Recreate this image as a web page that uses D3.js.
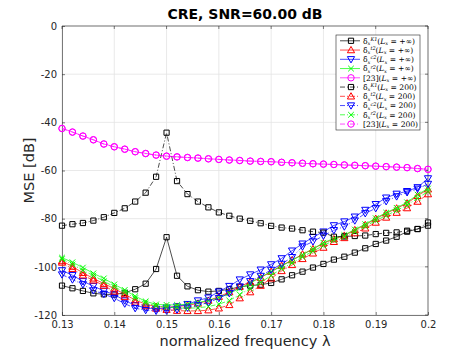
<!DOCTYPE html>
<html><head><meta charset="utf-8">
<script src="https://cdn.jsdelivr.net/npm/d3@7/dist/d3.min.js"></script>
<style>body{margin:0;background:#fff}</style></head>
<body>
<svg id="chart" width="474" height="355"></svg>
<script>
const freq = [0.130,0.132,0.134,0.136,0.138,0.140,0.142,0.144,0.146,0.148,0.150,0.152,0.154,0.156,0.158,0.160,0.162,0.164,0.166,0.168,0.170,0.172,0.174,0.176,0.178,0.180,0.182,0.184,0.186,0.188,0.190,0.192,0.194,0.196,0.198,0.200];
const xTicks = [0.13,0.14,0.15,0.16,0.17,0.18,0.19,0.2];
const xTickLabels = ["0.13","0.14","0.15","0.16","0.17","0.18","0.19","0.2"];
const yTicks = [0,-20,-40,-60,-80,-100,-120];

const k1Inf = [-107.8,-108.9,-110.0,-111.0,-111.4,-111.5,-110.8,-109.3,-107.0,-100.9,-87.7,-103.7,-108.1,-109.7,-110.3,-110.0,-109.3,-108.3,-107.8,-107.4,-106.7,-105.2,-103.5,-102.0,-100.3,-98.8,-97.0,-95.8,-94.1,-92.3,-90.5,-89.1,-87.5,-85.4,-84.3,-82.9];
const t2Inf = [-97.6,-99.9,-102.5,-104.8,-107.0,-109.0,-111.4,-113.8,-115.5,-116.5,-116.8,-116.5,-116.0,-115.2,-114.0,-112.4,-110.5,-108.2,-106.3,-104.5,-102.0,-99.5,-97.2,-94.8,-92.6,-90.2,-88.5,-87.0,-84.7,-82.6,-80.0,-77.8,-75.7,-73.6,-70.5,-67.8];
const c2Inf = [-101.5,-103.5,-106.0,-108.0,-110.0,-111.5,-114.0,-116.0,-117.0,-117.5,-117.0,-116.5,-115.5,-114.0,-112.8,-110.3,-108.0,-105.3,-103.2,-101.2,-99.0,-96.5,-93.3,-90.4,-87.7,-85.4,-82.8,-81.2,-79.2,-76.4,-74.0,-71.3,-69.7,-68.6,-67.0,-63.3];
const r2Inf = [-96.2,-98.1,-100.3,-102.7,-104.8,-107.3,-109.6,-112.2,-114.3,-115.6,-115.8,-115.8,-115.5,-114.8,-114.0,-112.8,-111.0,-109.0,-106.8,-104.3,-102.0,-99.7,-97.3,-95.0,-92.5,-90.0,-88.2,-86.8,-84.5,-82.3,-79.8,-77.5,-75.5,-73.2,-70.0,-67.5];
const ref23Inf = [-42.5,-44.0,-45.7,-47.2,-49.0,-50.1,-51.1,-52.2,-52.9,-53.6,-54.0,-54.3,-54.6,-54.8,-55.1,-55.4,-55.6,-55.8,-56.1,-56.2,-56.3,-56.6,-56.8,-57.0,-57.2,-57.3,-57.5,-57.7,-57.8,-58.0,-58.2,-58.4,-58.6,-58.8,-59.2,-59.5];
const k1L200 = [-82.9,-82.3,-81.8,-80.8,-79.4,-77.6,-75.7,-72.9,-69.2,-62.6,-44.3,-64.4,-69.8,-72.9,-75.3,-77.4,-78.8,-80.0,-80.9,-81.9,-83.0,-83.7,-84.1,-84.8,-85.4,-85.8,-87.5,-87.4,-87.2,-87.0,-86.4,-85.9,-85.7,-85.0,-84.3,-81.6];
const t2L200 = [-98.2,-100.8,-103.5,-105.6,-107.8,-110.2,-112.5,-114.8,-116.3,-117.3,-117.8,-118.2,-118.3,-118.3,-118.0,-117.2,-115.8,-113.0,-110.5,-107.8,-104.8,-101.7,-99.2,-96.7,-94.4,-92.0,-89.6,-88.0,-86.0,-84.0,-81.6,-79.5,-77.5,-75.6,-72.9,-69.8];
const c2L200 = [-103.2,-105.3,-107.3,-109.8,-111.3,-113.0,-115.3,-117.2,-118.0,-118.3,-118.2,-117.8,-117.0,-116.0,-114.8,-113.0,-111.0,-108.2,-106.0,-103.8,-101.3,-98.8,-96.0,-91.6,-89.5,-87.1,-84.8,-83.3,-80.8,-77.8,-75.7,-72.8,-70.8,-69.1,-67.6,-65.6];
const r2L200 = [-96.8,-99.0,-101.5,-103.6,-106.0,-108.3,-110.6,-113.0,-115.0,-116.2,-116.8,-117.0,-117.2,-117.0,-116.5,-115.5,-114.0,-111.5,-109.0,-106.5,-103.6,-100.8,-98.4,-95.9,-93.5,-91.2,-89.0,-87.5,-85.4,-83.2,-80.8,-78.7,-76.6,-74.4,-71.5,-68.7];
const ref23L200 = [-42.6,-44.1,-45.7,-47.3,-49.0,-50.2,-51.2,-52.2,-53.0,-53.6,-54.1,-54.4,-54.6,-54.9,-55.2,-55.4,-55.7,-55.9,-56.1,-56.3,-56.4,-56.6,-56.8,-57.0,-57.2,-57.4,-57.5,-57.7,-57.9,-58.0,-58.2,-58.4,-58.6,-58.8,-59.2,-59.5];

const series = [
  {sup:"K1", L:"+∞", data:k1Inf, color:"#000000", marker:"square", dash:null},
  {sup:"t2", L:"+∞", data:t2Inf, color:"#ff0000", marker:"triUp", dash:null},
  {sup:"c2", L:"+∞", data:c2Inf, color:"#0000ff", marker:"triDown", dash:null},
  {sup:"r2", L:"+∞", data:r2Inf, color:"#00ff00", marker:"x", dash:null},
  {ref:true, L:"+∞", data:ref23Inf, color:"#ff00ff", marker:"circle", dash:null},
  {sup:"K1", L:"200", data:k1L200, color:"#000000", marker:"square", dash:"5,2,1,2"},
  {sup:"t2", L:"200", data:t2L200, color:"#ff0000", marker:"triUp", dash:"5,2,1,2"},
  {sup:"c2", L:"200", data:c2L200, color:"#0000ff", marker:"triDown", dash:"5,2,1,2"},
  {sup:"r2", L:"200", data:r2L200, color:"#00ff00", marker:"x", dash:"5,2,1,2"},
  {ref:true, L:"200", data:ref23L200, color:"#ff00ff", marker:"circle", dash:"5,2,1,2"}
];

const svg = d3.select("#chart");
const W = 474, H = 355;
const m = {left:62, right:46, top:26, bottom:40};
const x = d3.scaleLinear().domain([0.13,0.2]).range([m.left, W-m.right]);
const y = d3.scaleLinear().domain([-120,0]).range([H-m.bottom, m.top]);
const axisColor = "#262626";
const font = "'DejaVu Sans', sans-serif";

svg.append("rect").attr("x",0).attr("y",0).attr("width",W).attr("height",H).attr("fill","#fff");

// grid
const g = svg.append("g");
g.selectAll(".gx").data(xTicks).join("line")
  .attr("x1",d=>x(d)).attr("x2",d=>x(d)).attr("y1",y(-120)).attr("y2",y(0))
  .attr("stroke","#e3e3e3").attr("stroke-width",0.8);
g.selectAll(".gy").data(yTicks).join("line")
  .attr("y1",d=>y(d)).attr("y2",d=>y(d)).attr("x1",x(0.13)).attr("x2",x(0.2))
  .attr("stroke","#e3e3e3").attr("stroke-width",0.8);

// axes
const xAxis = d3.axisBottom(x).tickValues(xTicks).tickFormat((d,i)=>xTickLabels[i]).tickSizeInner(-3).tickSizeOuter(0).tickPadding(6);
const yAxis = d3.axisLeft(y).tickValues(yTicks).tickFormat(d=>d).tickSizeInner(-3).tickSizeOuter(0).tickPadding(5);
const gx = svg.append("g").attr("transform",`translate(0,${y(-120)})`).call(xAxis);
const gy = svg.append("g").attr("transform",`translate(${x(0.13)},0)`).call(yAxis);
[gx,gy].forEach(a=>{
  a.selectAll("path").attr("stroke",axisColor).attr("stroke-width",0.6);
  a.selectAll("line").attr("stroke",axisColor).attr("stroke-width",0.6);
  a.selectAll("text").attr("fill",axisColor).style("font-family",font).style("font-size","10px");
});
svg.append("line").attr("x1",x(0.13)).attr("x2",x(0.2)).attr("y1",y(0)).attr("y2",y(0)).attr("stroke",axisColor).attr("stroke-width",0.6);
svg.append("line").attr("x1",x(0.2)).attr("x2",x(0.2)).attr("y1",y(0)).attr("y2",y(-120)).attr("stroke",axisColor).attr("stroke-width",0.6);
svg.selectAll(".tt").data(xTicks).join("line").attr("x1",d=>x(d)).attr("x2",d=>x(d)).attr("y1",y(0)).attr("y2",y(0)+3).attr("stroke",axisColor).attr("stroke-width",0.6);
svg.selectAll(".rt").data(yTicks).join("line").attr("y1",d=>y(d)).attr("y2",d=>y(d)).attr("x1",x(0.2)).attr("x2",x(0.2)-3).attr("stroke",axisColor).attr("stroke-width",0.6);

function markerPath(type, cx, cy){
  switch(type){
    case "square": { const s=2.6; return `M${cx-s},${cy-s}H${cx+s}V${cy+s}H${cx-s}Z`; }
    case "triUp": { const s=3.6; return `M${cx},${cy-s}L${cx+s},${cy+s*0.75}L${cx-s},${cy+s*0.75}Z`; }
    case "triDown": { const s=3.6; return `M${cx},${cy+s}L${cx+s},${cy-s*0.75}L${cx-s},${cy-s*0.75}Z`; }
    case "x": { const s=2.8; return `M${cx-s},${cy-s}L${cx+s},${cy+s}M${cx-s},${cy+s}L${cx+s},${cy-s}`; }
    case "circle": { const r=3.2; return `M${cx-r},${cy}A${r},${r} 0 1,0 ${cx+r},${cy}A${r},${r} 0 1,0 ${cx-r},${cy}Z`; }
  }
}

const line = d3.line().x((d,i)=>x(freq[i])).y(d=>y(d));
const plot = svg.append("g");
series.forEach(s=>{
  plot.append("path").datum(s.data).attr("d",line).attr("fill","none")
    .attr("stroke",s.color).attr("stroke-width",0.7)
    .attr("stroke-dasharray",s.dash);
  plot.append("g").selectAll("path").data(s.data).join("path")
    .attr("d",(d,i)=>markerPath(s.marker,x(freq[i]),y(d)))
    .attr("fill","none").attr("stroke",s.color).attr("stroke-width",1);
});

svg.append("text").attr("x",(x(0.13)+x(0.2))/2).attr("y",19).attr("text-anchor","middle")
  .style("font-family",font).style("font-size","14px").style("font-weight","bold").attr("fill","#000")
  .text("CRE, SNR=60.00 dB");
svg.append("text").attr("x",(x(0.13)+x(0.2))/2).attr("y",346).attr("text-anchor","middle")
  .style("font-family",font).style("font-size","14.5px").attr("fill",axisColor)
  .text("normalized frequency λ");
svg.append("text").attr("transform",`translate(34,${(y(0)+y(-120))/2}) rotate(-90)`).attr("text-anchor","middle")
  .style("font-family",font).style("font-size","14.5px").attr("fill",axisColor)
  .text("MSE [dB]");

// legend
const lg = svg.append("g");
const lx0 = 336, ly0 = 35, lw = 84, lh = 95, rowH = 9.25;
lg.append("rect").attr("x",lx0).attr("y",ly0).attr("width",lw).attr("height",lh)
  .attr("fill","#fff").attr("stroke",axisColor).attr("stroke-width",0.6);
const serif = "'DejaVu Serif', 'Liberation Serif', serif";
series.forEach((s,k)=>{
  const cy = ly0 + 5.8 + k*rowH;
  lg.append("line").attr("x1",lx0+4).attr("x2",lx0+24).attr("y1",cy).attr("y2",cy)
    .attr("stroke",s.color).attr("stroke-width",0.7).attr("stroke-dasharray",s.dash);
  lg.append("path").attr("d",markerPath(s.marker,lx0+15,cy)).attr("fill","none").attr("stroke",s.color).attr("stroke-width",1);
  const t = lg.append("text").attr("x",lx0+27).attr("y",cy+2.8)
    .style("font-family",serif).style("font-size","7.6px").attr("fill","#000");
  if(s.ref){
    t.append("tspan").text("[23](");
  } else {
    t.append("tspan").text("δ̂");
    t.append("tspan").attr("dy",1.6).style("font-size","5px").style("font-style","italic").text("x");
    t.append("tspan").attr("dy",-4.4).style("font-size","5px").style("font-style","italic").text(s.sup);
    t.append("tspan").attr("dy",2.8).text("(");
  }
  t.append("tspan").style("font-style","italic").text("L");
  t.append("tspan").attr("dy",1.6).style("font-size","5px").style("font-style","italic").text("x");
  t.append("tspan").attr("dy",-1.6).text(" = " + s.L + ")");
});
</script>
</body></html>
